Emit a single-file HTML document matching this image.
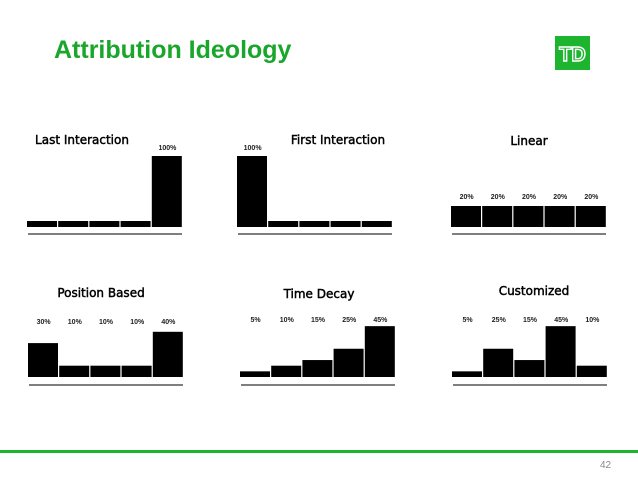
<!DOCTYPE html>
<html><head><meta charset="utf-8"><style>
body{margin:0;width:638px;height:478px;overflow:hidden;background:#fff;font-family:"Liberation Sans",sans-serif;position:relative}
</style></head><body>
<div style="position:absolute;left:54px;top:36px;font-size:25px;font-weight:bold;color:#1aa52b">Attribution Ideology</div>
<svg style="position:absolute;left:555px;top:36px" width="35" height="34"><rect width="35" height="34" fill="#1db52f"/><text x="17.5" y="25" text-anchor="middle" font-size="20" font-weight="bold" fill="none" stroke="#fff" stroke-width="1.4" font-family="Liberation Sans">TD</text></svg>
<svg id="charts" style="position:absolute;left:0;top:0" width="638" height="478"></svg>
<div style="position:absolute;left:0;top:450px;width:638px;height:3px;background:#1db52f"></div>
<div style="position:absolute;left:600px;top:460px;font-size:10px;color:#888">42</div>
<script>
const titles=["Last Interaction","First Interaction","Linear","Position Based","Time Decay","Customized"];
const valsLast=[0,0,0,0,100];
const valsFirst=[100,0,0,0,0];
const valsLinear=[20,20,20,20,20];
const valsPosition=[30,10,10,10,40];
const valsTime=[5,10,15,25,45];
const valsCustom=[5,25,15,45,10];
const showLabels=[[false,false,false,false,true],[true,false,false,false,false],null,null,null,null];
const series=[valsLast,valsFirst,valsLinear,valsPosition,valsTime,valsCustom];
const cfg=[
 {x:27,base:227,axis:234,scale:0.71,min:6,ly:150,ty:144,tx:82},
 {x:237,base:227,axis:234,scale:0.71,min:6,ly:150,ty:144,tx:338},
 {x:451,base:227,axis:234,scale:1.05,min:6,ly:199,ty:145,tx:529},
 {x:28,base:377,axis:385,scale:1.13,min:4,ly:324,ty:297,tx:101},
 {x:240,base:377,axis:385,scale:1.13,min:4,ly:322,ty:298,tx:319},
 {x:452,base:377,axis:385,scale:1.13,min:4,ly:322,ty:295,tx:534}];
const svg=document.getElementById('charts');
const NS='http://www.w3.org/2000/svg';
function yScale(c,v){return Math.max(c.min,v*c.scale);}
series.forEach((vals,i)=>{
 const c=cfg[i];const bw=31.2;
 const t=document.createElementNS(NS,'text');
 
 
 t.setAttribute('x',c.tx);t.setAttribute('y',c.ty);t.setAttribute('text-anchor','middle');
 t.setAttribute('stroke','#000');t.setAttribute('stroke-width','0.45');
 t.setAttribute('font-size','12');t.setAttribute('font-family','DejaVu Sans');t.textContent=titles[i];svg.appendChild(t);
 vals.forEach((v,j)=>{
  const h=yScale(c,v);
  const r=document.createElementNS(NS,'rect');
  
  
  r.setAttribute('x',c.x+j*bw);r.setAttribute('y',c.base-h);r.setAttribute('width',bw-1.2);r.setAttribute('height',h);r.setAttribute('fill','#000');svg.appendChild(r);
  if(!showLabels[i]||showLabels[i][j]){
   const l=document.createElementNS(NS,'text');
   
   
   l.setAttribute('x',c.x+j*bw+bw/2);l.setAttribute('y',c.ly);l.setAttribute('text-anchor','middle');
   l.setAttribute('font-size','7');l.setAttribute('font-weight','bold');l.setAttribute('fill','#222');l.textContent=v+'%';svg.appendChild(l);
  }
 });
 const a=document.createElementNS(NS,'line');
 
 
 a.setAttribute('x1',c.x+1);a.setAttribute('x2',c.x+5*bw-1);a.setAttribute('y1',c.axis);a.setAttribute('y2',c.axis);a.setAttribute('stroke','#333');a.setAttribute('stroke-width','1.2');svg.appendChild(a);
});
</script>
</body></html>
